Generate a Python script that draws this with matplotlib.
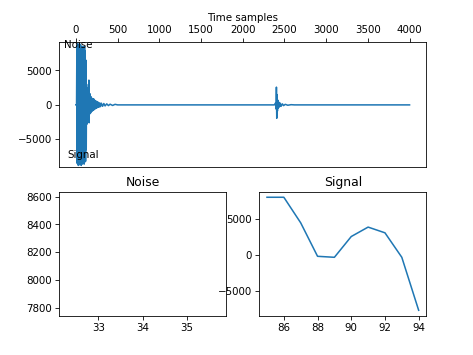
import matplotlib
matplotlib.use("Agg")
import matplotlib.pyplot as plt
import numpy as np

# Full trace (sample index, amplitude)
sample_idx = [0, 4, 8, 12, 16, 20, 24, 28, 32, 36, 40, 44, 48, 52, 56, 60, 64, 68, 72, 76,
              80, 82, 85, 86, 87, 88, 89, 90, 91, 92, 93, 94, 97, 100, 104, 108, 112, 116,
              120, 124, 128, 132, 136, 140, 144, 148, 152, 156, 159, 163, 167, 171, 175,
              180, 185, 190, 195, 200, 206, 212, 218, 224, 230, 236, 243, 250, 258, 266,
              275, 285, 295, 305, 320, 335, 350, 370, 390, 410, 440, 470, 500,
              2380, 2395, 2400, 2404, 2408, 2412, 2416, 2420, 2426, 2432, 2440, 2450,
              2460, 2475, 2490, 2510, 2540, 2580, 2620, 4000]
amplitude = [0, 0, 0, 8600, -8500, 8900, -8700, 8500, -8800, 8400, -8600, 8900, -8500,
             8700, -8300, 8600, -8800, 8400, -8200, 8500, -8600, 8300, 8080, 8080, 4500,
             -190, -330, 2580, 3900, 3100, -330, -7750, 8500, -8600, 8400, -8300, 7800,
             -8200, 6500, -6500, 3000, -2800, 2500, -2500, 2000, -2000, 1500, 3600, -2600,
             1400, -1300, 1600, -1200, 1200, -1000, 1000, -900, 800, -800, 900, -700, 700,
             -600, 600, -500, 500, -400, 400, -350, 300, -250, 250, -200, 200, -150, 150,
             -100, 100, -80, 80, 0,
             0, 300, -600, 2580, -1940, 1500, -900, 700, -500, 400, -300, 250, -200, 150,
             -100, 80, -50, 30, 0, 0]

# Zoomed signal window
signal_x = [85, 86, 87, 88, 89, 90, 91, 92, 93, 94]
signal_y = [8080, 8080, 4500, -190, -330, 2580, 3900, 3100, -330, -7750]

# Noise window (empty axes)
noise_xlim = (32.12, 35.88)
noise_ylim = (7740, 8636)

fig = plt.figure(figsize=(6.4, 4.8), dpi=74)
ax1 = fig.add_subplot(211)
ax2 = fig.add_subplot(223)
ax3 = fig.add_subplot(224)

ax1.plot(sample_idx, amplitude, color="#1f77b4")
ax1.set_ylim(-8990, 9080)
ax1.xaxis.tick_top()
ax1.xaxis.set_label_position("top")
ax1.set_xlabel("Time samples")
ax1.text(32, 8750, "Noise", ha="center", va="center")
ax1.text(85, -7290, "Signal", ha="center", va="center")

ax2.set_xlim(*noise_xlim)
ax2.set_ylim(*noise_ylim)
ax2.set_xticks([33, 34, 35])
ax2.set_title("Noise")

ax3.plot(signal_x, signal_y, color="#1f77b4")
ax3.set_title("Signal")

fig.savefig("out.png", dpi=74)
